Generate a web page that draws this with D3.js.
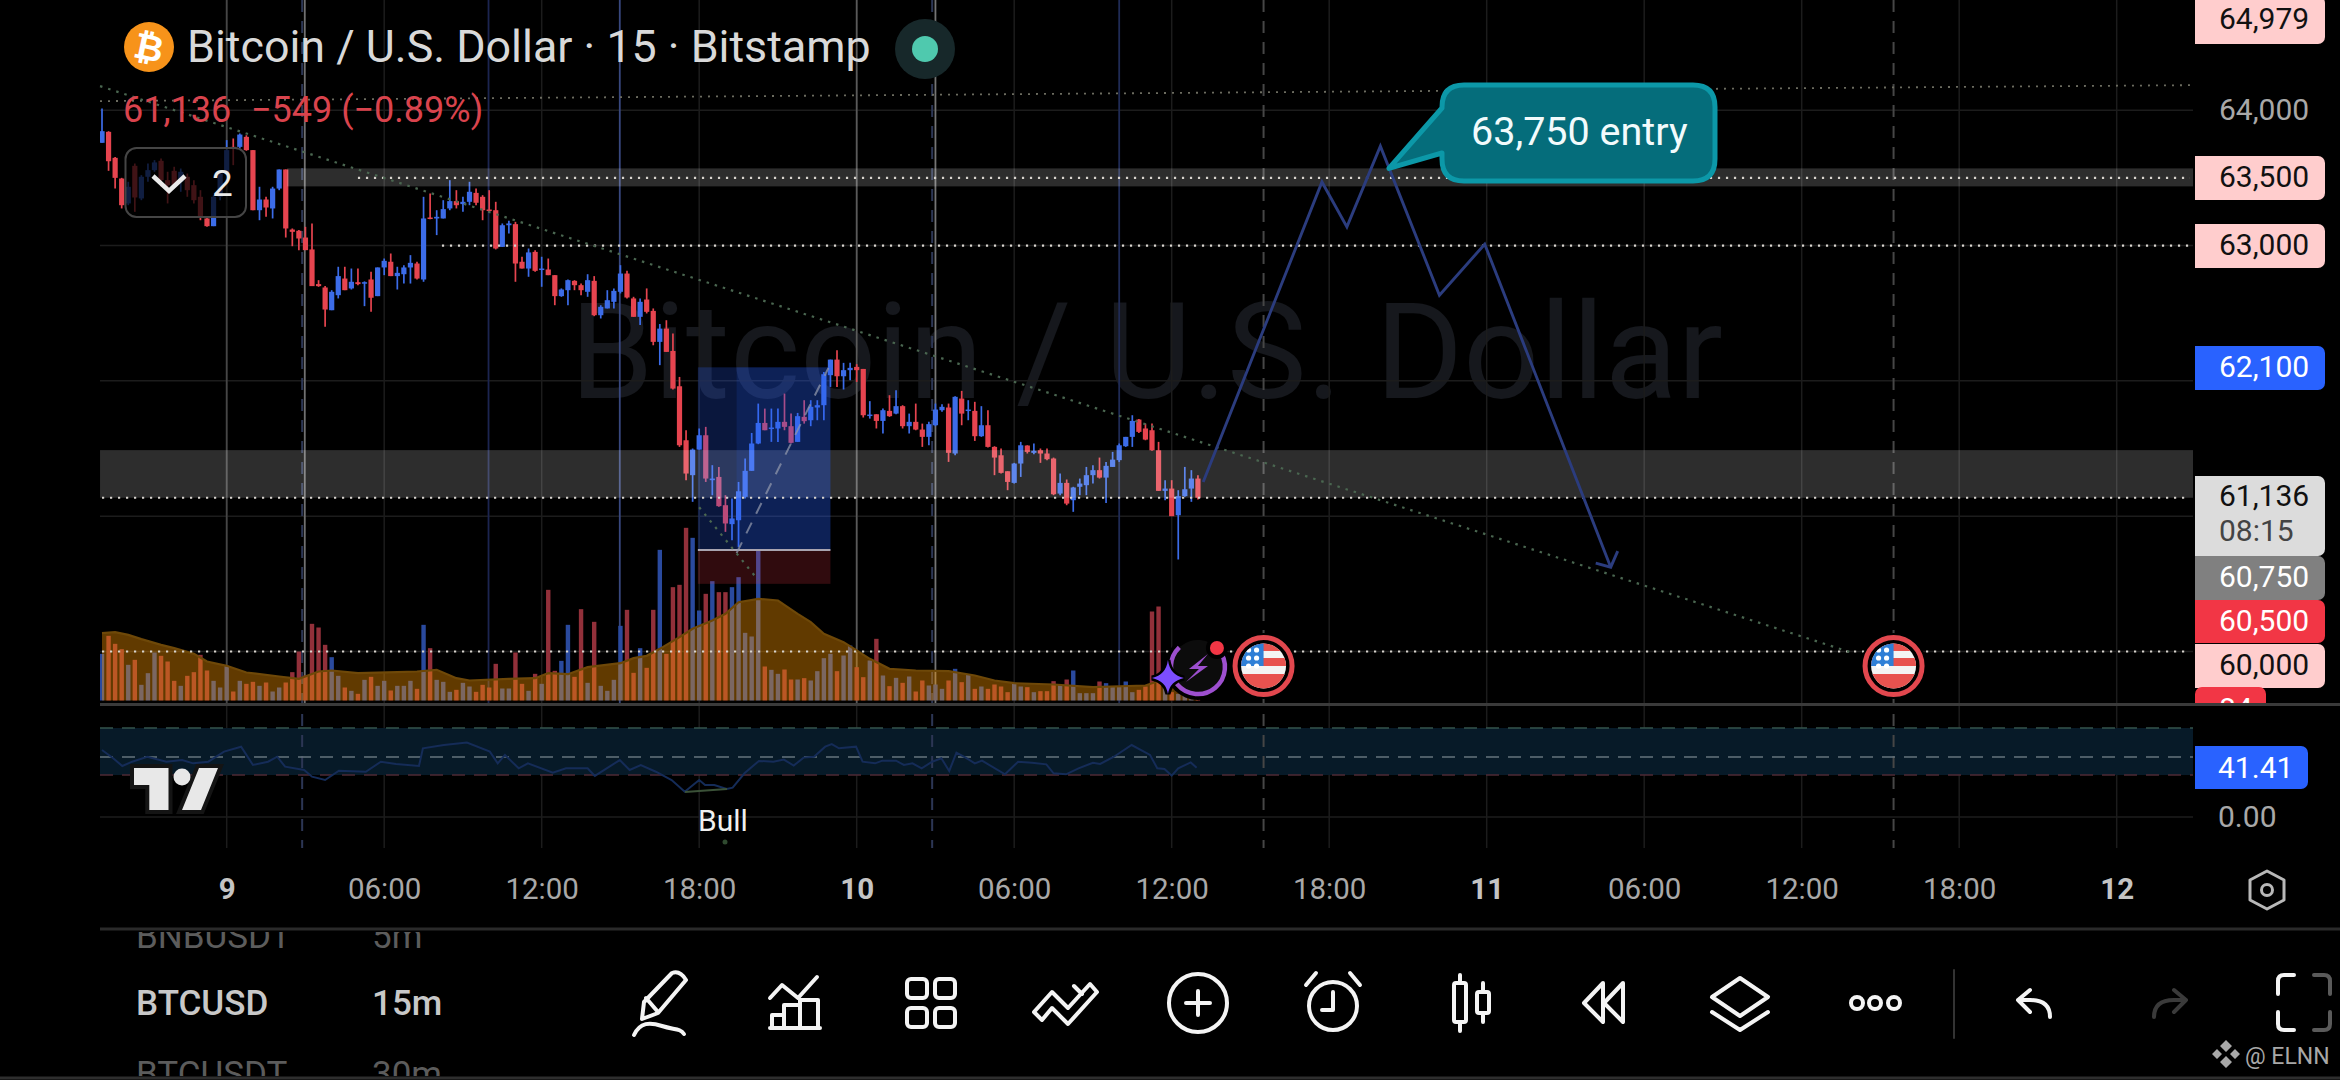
<!DOCTYPE html>
<html><head><meta charset="utf-8">
<script src="https://cdn.jsdelivr.net/npm/d3@7"></script>
<style>html,body{margin:0;padding:0;background:#000}svg{display:block}text{font-family:Roboto,sans-serif}</style>
</head><body><svg id="c" width="2340" height="1080"></svg>
<script>
const opens=[63759,63840,63648,63495,63311,63589,63348,63508,63557,63626,
63483,63552,63471,63508,63446,63360,63200,63143,63360,63532,
63729,63729,63803,63705,63261,63340,63274,63421,63562,63118,
63109,63059,62971,62715,62690,62522,62633,62756,62683,62729,
62719,62749,62626,62838,62880,62774,62788,62838,62867,62749,
63207,63200,63200,63274,63328,63306,63323,63389,63360,63266,
63261,62990,63150,63158,62880,62830,62953,62823,62823,62781,
62626,62670,62739,62707,62658,62739,62485,62535,62584,62658,
62793,62609,62473,62601,62517,62288,62386,62221,61960,61561,
61303,61492,61598,61266,61290,61081,60941,60970,61143,61335,
61537,61689,61645,61648,61697,61665,61549,61734,61709,61803,
61820,62042,62157,62034,62079,62103,62088,61741,61753,61704,
61778,61758,61813,61665,61697,61640,61586,61672,61783,61803,
61463,61869,61778,61778,61591,61672,61512,61450,61332,61246,
61389,61522,61468,61487,61463,61426,61167,61246,61118,61217,
61229,61303,61340,61285,61364,61414,61517,61586,61714,61648,
61635,61487,61187,61204,61007,61148,61204,61278];
const highs=[64013,63845,63655,63500,63471,63606,63520,63606,63631,63643,
63545,63582,63569,63532,63483,63409,63212,63372,63557,63779,
63791,63828,63815,63705,63434,63360,63434,63562,63562,63126,
63114,63138,63163,62744,62700,62670,62843,62843,62830,62830,
62735,62806,62838,62904,62941,62843,62855,62929,62880,63360,
63385,63261,63335,63483,63409,63360,63471,63421,63372,63409,
63323,63163,63183,63175,62917,62978,62966,62917,62904,62781,
62683,62749,62744,62719,62788,62774,62559,62670,62683,62855,
62813,62621,62609,62683,62535,62420,62448,62349,62029,61635,
61500,61648,61660,61377,61364,61155,61130,61253,61426,61615,
61832,61795,61795,61795,61906,61758,61763,61857,61857,61857,
62066,62157,62226,62133,62133,62123,62088,61850,61753,61795,
61894,61931,61820,61758,61832,61684,61697,61832,61827,61832,
61886,61926,61857,61845,61813,61783,61517,61500,61332,61394,
61549,61524,61537,61500,61500,61433,61315,61271,61217,61278,
61364,61377,61433,61401,61475,61537,61586,61746,61719,61684,
61684,61549,61266,61266,61192,61364,61340,61303];
const lows=[63759,63552,63421,63274,63298,63249,63335,63471,63545,63434,
63311,63434,63397,63360,63311,63187,63138,63143,63335,63520,
63594,63717,63700,63261,63187,63212,63200,63409,63059,62995,
62966,62966,62700,62695,62399,62522,62609,62670,62675,62707,
62552,62510,62626,62781,62774,62675,62719,62719,62749,62732,
63195,63077,63200,63261,63274,63249,63298,63298,63187,63249,
62971,62990,63089,62732,62830,62769,62806,62695,62781,62559,
62621,62559,62670,62633,62621,62478,62461,62535,62535,62646,
62609,62473,62412,62498,62263,62116,62214,61936,61512,61266,
61106,61492,61253,61155,61069,60884,60822,60773,61130,61335,
61532,61635,61549,61549,61635,61537,61549,61684,61665,61709,
61709,61955,61955,61936,62005,61992,61729,61721,61648,61611,
61734,61753,61648,61611,61635,61512,61524,61665,61771,61401,
61450,61672,61709,61556,61586,61507,61303,61315,61192,61241,
61290,61463,61458,61394,61414,61155,61155,61081,61032,61155,
61155,61241,61278,61098,61364,61401,61512,61512,61615,61561,
61483,61187,61118,61000,60680,61143,61106,61123];
const closes=[63845,63623,63500,63298,63434,63355,63508,63557,63614,63483,
63446,63446,63545,63409,63335,63212,63143,63360,63532,63705,
63717,63820,63705,63261,63340,63281,63421,63562,63126,63101,
63052,62966,62700,62700,62527,62658,62774,62670,62732,62715,
62729,62614,62838,62887,62774,62798,62838,62872,62756,63200,
63200,63212,63269,63328,63298,63323,63397,63316,63261,63256,
62978,63150,63163,62867,62830,62949,62813,62830,62781,62626,
62675,62744,62707,62670,62744,62485,62547,62596,62665,62793,
62616,62473,62584,62510,62288,62386,62214,61943,61524,61315,
61492,61598,61278,61278,61074,60946,60983,61184,61335,61537,
61689,61635,61655,61697,61660,61542,61739,61702,61808,61820,
62049,62157,62034,62079,62096,62079,61746,61751,61704,61783,
61739,61813,61665,61697,61640,61586,61680,61788,61808,61468,
61882,61758,61788,61591,61672,61512,61433,61320,61253,61389,
61524,61475,61483,61463,61421,61162,61246,61093,61212,61241,
61303,61340,61285,61372,61418,61524,61586,61704,61623,61566,
61487,61187,61204,61000,61148,61199,61278,61136];
const volumes=[140,194,170,154,107,122,47,82,144,134,
117,59,44,74,85,137,90,59,39,104,
27,59,50,56,44,54,27,39,54,85,
147,75,230,219,167,130,74,39,29,20,
62,71,44,59,30,44,44,59,35,227,
157,62,56,26,32,53,42,26,47,39,
110,36,36,144,50,29,80,50,332,89,
119,227,71,274,53,236,44,29,62,224,
272,83,157,98,272,452,140,340,347,518,
488,270,320,358,325,325,340,370,203,192,
453,102,92,80,93,63,63,67,60,88,
127,140,88,135,165,100,70,120,185,75,
43,68,53,72,27,60,45,48,35,60,
95,55,78,35,42,35,48,42,25,53,
42,40,25,28,28,58,48,63,90,22,
22,22,57,52,42,42,57,25,32,42,
267,282,40,25,20,15,8,5];
const volMaBars=[0,2,4,6,9,11,14,16,19,22,27,30,33,35,39,45,48,51,54,56,62,66,68,71,74,79,81,83,85,88,90,93,95,97,100,103,106,108,110,113,115,117,120,124,129,133,136,139,145,151,159,162,167];
const volMaVals=[202,205,197,184,167,157,140,117,104,84,72,65,87,90,82,85,87,92,67,60,65,67,82,79,100,112,127,134,155,190,215,240,260,295,305,300,260,235,200,175,150,125,95,90,88,75,60,52,48,40,45,65,50];
const rsiBars=[0,1.7,3.1,4.6,6.9,9.8,12.2,13.9,16.2,18.6,21.2,23,25.3,26.7,27.9,30.8,32,34,36.1,40.2,42.5,44.8,48.3,48.9,52.1,55.6,59.1,60.3,61.4,63.5,64.9,68.7,70.7,74,75.1,78.9,80.4,82.1,84.4,86.8,88.8,91,91.9,93.3,95.2,96.1,97.9,100.1,102.3,103.9,105.4,106.9,108.5,110.2,111.2,112.3,114.9,115.9,117.8,118.9,121,122.2,123.5,124.9,126.5,127.9,129.1,130.2,131.6,133,134.1,137.6,139.6,141.7,143.9,145,146.9,148.8,151,152.1,154.2,156.9,159.7,160.8,161.9,163,164,165.9,166.8];
const rsiVals=[52.7,46.2,40.1,43.5,47.4,43.5,44.8,42.2,43.5,51.4,55.3,40.9,43.5,47.4,39.6,37,31.7,29.1,36.4,35.6,43.5,41.7,40.1,54,56.6,58.5,51.4,42.2,48.8,38.3,42.2,34.9,38.3,38.3,32.3,44.8,37,40.9,35.6,29.1,19.9,29.1,25.2,25.2,22,23.1,34.4,44.1,43.5,45.2,40.4,46.7,47.4,55.3,57.4,54,55.3,43.5,42.2,44.3,44.3,40.9,42.2,38.3,43.5,46.2,36.2,50.6,46.7,42.2,44.3,33.6,43.5,42.7,41.4,34.4,33.6,38.3,42.7,41.7,47.4,56.6,48.8,38.3,37.8,32.5,38.3,42.9,38.8];
const rsiLevels=[70,47.2,33];
const rsiLevelColors=["#35544c","#66747c","#4e2a35"];
const timeTickBars=[19,43,67,91,115,139,163,187,211,235,259,283,307];
const timeTickLabels=["9","06:00","12:00","18:00","10","06:00","12:00","18:00","11","06:00","12:00","18:00","12"];
const dayTicks=["9","10","11","12"];
const sessionBars=[30.5,126.5,177,273];
const sessionColors=["#2c3654","#2c3654","#464646","#464646"];
const gridPrices=[64000,63000,62000,61000,60000];
const axisPrices=[64000];
const dottedPrices=[63500,63000,61136,60000];
const dottedStartBars=[39,51.8,0,0];
const zonePrices=[[63570,63437],[61488,61136]];
const zoneStartBars=[28.2,-0.3];
const projBars=[167.8,185.9,189.7,194.8,203.8,210.7,229.9];
const projPrices=[61253,63470,63138,63734,62633,63010,60623];
const trendBars=[-0.3,266.4];
const trendPrices=[64178,59995];
const upperBars=[-0.3,318.2];
const upperPrices=[64067,64185];
const shortDotBars=[91,100];
const shortDotPrices=[61066,60527];
const longBars=[90.8,96.7,111];
const longPrices=[62100,60750,60500];
const longDashBars=[96.7,110.7];
const longDashPrices=[60727,62096];
const vLineBars=[19,30.9,58.9,78.9,115,127,155];
const vLineColors=["#464646","#707070","#1c2550","#38487f","#5a5a5a","#747474","#1f2b55"];
const flagBars=[177,273];
const priceBadges=[
 {t:"64,979",top:-4,h:48,fill:"#ffcdcd",c:"#111"},
 {t:"63,500",top:156,h:44,fill:"#ffcdcd",c:"#111"},
 {t:"63,000",top:224,h:44,fill:"#ffcdcd",c:"#111"},
 {t:"62,100",top:346,h:44,fill:"#2962ff",c:"#fff"},
 {t:"60,750",top:556,h:44,fill:"#808080",c:"#fff"},
 {t:"60,500",top:600,h:43,fill:"#f23645",c:"#fff"},
 {t:"60,000",top:644,h:44,fill:"#ffcdcd",c:"#111"}];

const svg=d3.select("#c");
const PL=100,PR=2193;
const x=d3.scaleLinear().domain([0,168]).range([102,102+168*6.5625]);
const y=d3.scaleLinear().domain([60000,64000]).range([651.5,110.2]);
const yV=d3.scaleLinear().domain([0,600]).range([700.5,500.5]);
const yR=d3.scaleLinear().domain([0,70]).range([817,728]);
const RED="#e6444f",BLUE="#3c6ce8";
const idx=d3.range(closes.length);

const defs=svg.append("defs");
defs.append("clipPath").attr("id","plot").append("rect").attr("x",PL).attr("y",0).attr("width",PR-PL).attr("height",704);
defs.append("clipPath").attr("id","flagclip").append("circle").attr("r",22.5);
const clipBadge=defs.append("clipPath").attr("id","bclip");clipBadge.append("rect").attr("x",2190).attr("y",680).attr("width",150).attr("height",23);
const clipRow=defs.append("clipPath").attr("id","rowclip");clipRow.append("rect").attr("x",0).attr("y",932).attr("width",700).attr("height",144);

// watermark
svg.append("text").attr("x",570).attr("y",398).attr("font-size",134).attr("fill","#16181d").text("Bitcoin / U.S. Dollar");

// grid
const gridG=svg.append("g");
gridG.selectAll("line.h").data(gridPrices).join("line").attr("x1",PL).attr("x2",PR).attr("y1",d=>y(d)).attr("y2",d=>y(d)).attr("stroke","#1c1c1c").attr("stroke-width",1.5);
gridG.append("line").attr("x1",PL).attr("x2",PR).attr("y1",yR(0)).attr("y2",yR(0)).attr("stroke","#1c1c1c").attr("stroke-width",1.5);
gridG.selectAll("line.v").data(timeTickBars).join("line").attr("x1",d=>x(d)).attr("x2",d=>x(d)).attr("y1",0).attr("y2",848).attr("stroke","#1c1c1c").attr("stroke-width",1.5);

// RSI band
svg.append("rect").attr("x",PL).attr("width",PR-PL).attr("y",yR(rsiLevels[0])).attr("height",yR(rsiLevels[2])-yR(rsiLevels[0])).attr("fill","#071a28");

// session dashed
svg.selectAll("line.s").data(sessionBars).join("line").attr("x1",d=>x(d)).attr("x2",d=>x(d)).attr("y1",0).attr("y2",848).attr("stroke",(d,i)=>sessionColors[i]).attr("stroke-width",2).attr("stroke-dasharray","12 9");

// coloured verticals
svg.selectAll("line.m").data(vLineBars).join("line").attr("x1",d=>x(d)).attr("x2",d=>x(d)).attr("y1",0).attr("y2",703).attr("stroke",(d,i)=>vLineColors[i]).attr("stroke-width",1.8);

// volume
svg.append("g").attr("clip-path","url(#plot)").selectAll("rect").data(idx).join("rect")
 .attr("x",i=>x(i)-2.2).attr("width",4.4).attr("y",i=>yV(volumes[i])).attr("height",i=>yV(0)-yV(volumes[i]))
 .attr("fill",i=>closes[i]>=opens[i]?"#2a4a9e":"#92303a");
const ma=d3.area().x(d=>x(d)).y0(yV(0)).y1((d,i)=>yV(volMaVals[i]));
svg.append("path").datum(volMaBars).attr("d",ma).attr("fill","#ff9800").attr("fill-opacity",.38).attr("clip-path","url(#plot)");
svg.append("path").datum(volMaBars).attr("d",d3.line().x(d=>x(d)).y((d,i)=>yV(volMaVals[i]))).attr("fill","none").attr("stroke","#6e4808").attr("stroke-width",2.2);
svg.append("line").attr("x1",PL).attr("x2",2340).attr("y1",704.5).attr("y2",704.5).attr("stroke","#3a3a3a").attr("stroke-width",3);

// candles
const cg=svg.append("g").attr("clip-path","url(#plot)");
cg.selectAll("line").data(idx).join("line").attr("x1",i=>x(i)).attr("x2",i=>x(i)).attr("y1",i=>y(highs[i])).attr("y2",i=>y(lows[i]))
 .attr("stroke",i=>closes[i]>=opens[i]?BLUE:RED).attr("stroke-width",1.7);
cg.selectAll("rect").data(idx).join("rect").attr("x",i=>x(i)-2.6).attr("width",5.2)
 .attr("y",i=>y(Math.max(opens[i],closes[i]))).attr("height",i=>Math.max(1.5,Math.abs(y(opens[i])-y(closes[i]))))
 .attr("fill",i=>closes[i]>=opens[i]?BLUE:RED);

// zones
svg.selectAll("rect.z").data(zonePrices).join("rect").attr("x",(d,i)=>x(zoneStartBars[i])).attr("width",(d,i)=>PR-x(zoneStartBars[i]))
 .attr("y",d=>y(d[0])).attr("height",d=>y(d[1])-y(d[0])).attr("fill","#fff").attr("fill-opacity",.175);

// long position
svg.append("rect").attr("x",x(longBars[0])).attr("width",x(longBars[2])-x(longBars[0])).attr("y",y(longPrices[0])).attr("height",y(longPrices[1])-y(longPrices[0])).attr("fill","#2962ff").attr("fill-opacity",.24);
svg.append("rect").attr("x",x(longBars[1])).attr("width",x(longBars[2])-x(longBars[1])).attr("y",y(longPrices[0])).attr("height",y(longPrices[1])-y(longPrices[0])).attr("fill","#2962ff").attr("fill-opacity",.13);
svg.append("rect").attr("x",x(longBars[0])).attr("width",x(longBars[2])-x(longBars[0])).attr("y",y(longPrices[1])).attr("height",y(longPrices[2])-y(longPrices[1])).attr("fill","#f23645").attr("fill-opacity",.2);
svg.append("line").attr("x1",x(longBars[0])).attr("x2",x(longBars[2])).attr("y1",y(longPrices[1])).attr("y2",y(longPrices[1])).attr("stroke","#a8a4b0").attr("stroke-width",2.2);
svg.append("line").attr("x1",x(longDashBars[0])).attr("x2",x(longDashBars[1])).attr("y1",y(longDashPrices[0])).attr("y2",y(longDashPrices[1])).attr("stroke","#8f96aa").attr("stroke-opacity",.75).attr("stroke-width",2).attr("stroke-dasharray","12 10");

// dotted level lines
svg.selectAll("line.d").data(dottedPrices).join("line").attr("x1",(d,i)=>x(dottedStartBars[i])).attr("x2",PR-3).attr("y1",d=>y(d)).attr("y2",d=>y(d))
 .attr("stroke","#d8d4ce").attr("stroke-width",2.2).attr("stroke-dasharray","2.2 5.8");
svg.append("line").attr("x1",x(upperBars[0])).attr("x2",x(upperBars[1])).attr("y1",y(upperPrices[0])).attr("y2",y(upperPrices[1])).attr("stroke","#6c6c60").attr("stroke-width",1.8).attr("stroke-dasharray","2 6");
svg.append("line").attr("x1",x(trendBars[0])).attr("x2",x(trendBars[1])).attr("y1",y(trendPrices[0])).attr("y2",y(trendPrices[1])).attr("stroke","#4a6650").attr("stroke-width",2.2).attr("stroke-dasharray","2.5 6");
svg.append("line").attr("x1",x(shortDotBars[0])).attr("x2",x(shortDotBars[1])).attr("y1",y(shortDotPrices[0])).attr("y2",y(shortDotPrices[1])).attr("stroke","#4a6650").attr("stroke-width",2.2).attr("stroke-dasharray","2.5 6");

// projection
const projLine=d3.line().x(d=>x(d)).y((d,i)=>y(projPrices[i]));
svg.append("path").datum(projBars).attr("d",projLine).attr("fill","none").attr("stroke","#2b3c7e").attr("stroke-width",2.9);
const tx=x(projBars[6]),ty=y(projPrices[6]);
svg.append("path").attr("d",`M${tx-15} ${ty-4}L${tx} ${ty}L${tx+7} ${ty-16}`).attr("fill","none").attr("stroke","#2b3c7e").attr("stroke-width",2.9);

// RSI
rsiLevels.forEach((v,i)=>svg.append("line").attr("x1",PL).attr("x2",PR).attr("y1",yR(v)).attr("y2",yR(v)).attr("stroke",rsiLevelColors[i]).attr("stroke-width",1.6).attr("stroke-dasharray","13 9"));
svg.append("path").datum(rsiBars).attr("d",d3.line().x(d=>x(d)).y((d,i)=>yR(rsiVals[i]))).attr("fill","none").attr("stroke","#152c58").attr("stroke-width",2);
svg.append("line").attr("x1",685).attr("y1",792).attr("x2",727).attr("y2",789).attr("stroke","#3b5238").attr("stroke-width",2);
svg.append("text").attr("x",698).attr("y",831).attr("font-size",30).attr("fill","#f0f0f0").text("Bull");
svg.append("circle").attr("cx",725).attr("cy",842).attr("r",2.5).attr("fill","#2f4a2f");

// TradingView logo
const tv=svg.append("g");
tv.append("path").attr("d","M134 768H168.5V810H149.3V785H134Z M199 768H218L201 810H182Z").attr("fill","#e8e8e8").attr("stroke","#141414").attr("stroke-width",8).attr("paint-order","stroke");
tv.append("circle").attr("cx",182).attr("cy",777).attr("r",8.5).attr("fill","#e8e8e8");

// legend header
svg.append("circle").attr("cx",149).attr("cy",47).attr("r",25).attr("fill","#f7931a");
svg.append("text").attr("x",149).attr("y",60).attr("text-anchor","middle").attr("font-size",36).attr("font-weight",700).attr("fill","#fff").attr("transform","rotate(12 149 47)").style("font-family","'DejaVu Sans',sans-serif").text("₿");
svg.append("text").attr("x",187).attr("y",61.5).attr("font-size",44.8).attr("fill","#d9d9d9").text("Bitcoin / U.S. Dollar · 15 · Bitstamp");
svg.append("circle").attr("cx",925).attr("cy",49).attr("r",30).attr("fill","#17282a");
svg.append("circle").attr("cx",925).attr("cy",49).attr("r",13).attr("fill","#4fc9ae");
svg.append("text").attr("x",123).attr("y",122).attr("font-size",36).attr("fill","#d9434d").text("61,136");
svg.append("text").attr("x",251).attr("y",122).attr("font-size",36).attr("fill","#d9434d").text("−549 (−0.89%)");
svg.append("rect").attr("x",125.5).attr("y",148).attr("width",120.5).attr("height",69).attr("rx",11).attr("fill","#000").attr("fill-opacity",.72).attr("stroke","#454545").attr("stroke-width",2);
svg.append("path").attr("d","M153 176L169 191L185 176").attr("fill","none").attr("stroke","#eaeaea").attr("stroke-width",4.5);
svg.append("text").attr("x",212).attr("y",196).attr("font-size",37).attr("fill","#eaeaea").text("2");

// time axis
const xAxis=d3.axisBottom(x).tickValues(timeTickBars).tickFormat((d,i)=>timeTickLabels[i]).tickSize(0).tickPadding(0);
const xg=svg.append("g").attr("transform","translate(0,878)").call(xAxis);
xg.select(".domain").remove();
xg.selectAll("text").attr("y",0).attr("dy","21").attr("font-size",29.5).style("font-family","Roboto")
 .attr("font-weight",function(){return dayTicks.includes(this.textContent)?700:400})
 .attr("fill",function(){return dayTicks.includes(this.textContent)?"#c4c4c4":"#a8a8a8"});
svg.append("line").attr("x1",PL).attr("x2",2340).attr("y1",929).attr("y2",929).attr("stroke","#2a2a2a").attr("stroke-width",3);

// price axis
const yAxis=d3.axisRight(y).tickValues(axisPrices).tickFormat(d3.format(",")).tickSize(0).tickPadding(0);
const yg=svg.append("g").attr("transform","translate(2219,0)").call(yAxis);
yg.select(".domain").remove();
yg.selectAll("text").attr("font-size",30).style("font-family","Roboto").attr("fill","#a8a8a8").attr("text-anchor","start").attr("dy","9").attr("x",0);

const badge=(d)=>{
 svg.append("rect").attr("x",2195).attr("y",d.top).attr("width",d.w||130).attr("height",d.h).attr("rx",7).attr("fill",d.fill);
 svg.append("rect").attr("x",2195).attr("y",d.top).attr("width",10).attr("height",d.h).attr("fill",d.fill);
 svg.append("text").attr("x",2219).attr("y",d.top+d.h/2+9).attr("font-size",30).attr("fill",d.c).text(d.t);
};
priceBadges.forEach(badge);
svg.append("rect").attr("x",2195).attr("y",476).attr("width",130).attr("height",80).attr("rx",7).attr("fill","#dcdcdc");
svg.append("rect").attr("x",2195).attr("y",476).attr("width",10).attr("height",80).attr("fill","#dcdcdc");
svg.append("text").attr("x",2219).attr("y",506).attr("font-size",30).attr("fill","#111").text("61,136");
svg.append("text").attr("x",2219).attr("y",541).attr("font-size",30).attr("fill","#444").text("08:15");
const cb=svg.append("g").attr("clip-path","url(#bclip)");
cb.append("rect").attr("x",2195).attr("y",687).attr("width",71).attr("height",44).attr("rx",7).attr("fill","#f23645");
cb.append("text").attr("x",2219).attr("y",719).attr("font-size",30).attr("fill","#fff").text("84");
svg.append("rect").attr("x",2195).attr("y",746).attr("width",113).attr("height",43).attr("rx",7).attr("fill","#2962ff");
svg.append("rect").attr("x",2195).attr("y",746).attr("width",10).attr("height",43).attr("fill","#2962ff");
svg.append("text").attr("x",2218).attr("y",778).attr("font-size",30).attr("fill","#fff").text("41.41");
svg.append("text").attr("x",2218).attr("y",827).attr("font-size",30).attr("fill","#a8a8a8").text("0.00");

// callout
const cx0=x(196.1),cy0=y(63570);
const cal=svg.append("g");
const bx0=1442,bx1=1715,by0=85,by1=181,r=22;
cal.append("path").attr("d",`M${bx0+r} ${by0}H${bx1-r}Q${bx1} ${by0} ${bx1} ${by0+r}V${by1-r}Q${bx1} ${by1} ${bx1-r} ${by1}H${bx0+r}Q${bx0} ${by1} ${bx0} ${by1-r}V153L${cx0} ${cy0}L${bx0} 108V${by0+r}Q${bx0} ${by0} ${bx0+r} ${by0}Z`)
 .attr("fill","#056d7b").attr("stroke","#0c98a8").attr("stroke-width",5).attr("stroke-linejoin","round");
cal.append("text").attr("x",1471).attr("y",145).attr("font-size",39.5).attr("fill","#f2fbfc").text("63,750 entry");

// events
const flag=(cx,cy)=>{
 const g=svg.append("g").attr("transform",`translate(${cx},${cy})`);
 g.append("circle").attr("r",33).attr("fill","#000");
 g.append("circle").attr("r",28.5).attr("fill","#000").attr("stroke","#e2474e").attr("stroke-width",5);
 const f=g.append("g").attr("clip-path","url(#flagclip)");
 f.append("rect").attr("x",-23).attr("y",-23).attr("width",46).attr("height",46).attr("fill","#f4f4f4");
 [-23,-8,8,16].forEach(v=>f.append("rect").attr("x",-23).attr("y",v).attr("width",46).attr("height",8).attr("fill","#e8524f"));
 f.append("rect").attr("x",-23).attr("y",-23).attr("width",23).attr("height",23).attr("fill","#2f7fd6");
 [[-15,-15],[-7,-15],[-15,-7],[-7,-7],[-15,1],[-7,1]].forEach(p=>f.append("circle").attr("cx",p[0]).attr("cy",p[1]-1).attr("r",2.6).attr("fill","#fff"));
};
const fy=666;
const ex=x(167);
const ev=svg.append("g").attr("transform",`translate(${ex},667)`);
ev.append("circle").attr("r",33).attr("fill","#000");
ev.append("circle").attr("r",27).attr("fill","#0c0c0c").attr("stroke","#9d4fcf").attr("stroke-width",4.5).attr("stroke-dasharray","125 45").attr("transform","rotate(-40)");
ev.append("path").attr("d","M10 -13L-9 2H1L-12 15L10 -1H0Z").attr("fill","#9d4fcf");
ev.append("circle").attr("cx",19).attr("cy",-19).attr("r",11).attr("fill","#000");
ev.append("circle").attr("cx",19).attr("cy",-19).attr("r",7).attr("fill","#f23645");
ev.append("path").attr("d","M-30 -7Q-28 8 -14 11Q-28 14 -30 27Q-32 14 -46 11Q-32 8 -30 -7Z").attr("fill","#7c4dff").attr("stroke","#000").attr("stroke-width",5).attr("paint-order","stroke");
flagBars.forEach(b=>flag(x(b),fy));

// bottom rows
const rows=svg.append("g").attr("clip-path","url(#rowclip)");
[["BNBUSDT","5m",948,"#5c5c5c",400],["BTCUSD","15m",1015,"#c8c8c8",500],["BTCUSDT","30m",1086,"#5c5c5c",400]].forEach(r=>{
 rows.append("text").attr("x",136).attr("y",r[2]).attr("font-size",35).attr("font-weight",r[4]).attr("fill",r[3]).text(r[0]);
 rows.append("text").attr("x",372).attr("y",r[2]).attr("font-size",35).attr("font-weight",r[4]).attr("fill",r[3]).text(r[1]);
});
svg.append("line").attr("x1",0).attr("x2",2340).attr("y1",1078).attr("y2",1078).attr("stroke","#2e2e2e").attr("stroke-width",3);

// toolbar icons
const ic=svg.append("g").attr("fill","none").attr("stroke","#f4f4f4").attr("stroke-width",4).attr("stroke-linejoin","round").attr("stroke-linecap","round");
const P=(d,s)=>{const e=ic.append("path").attr("d",d);if(s)e.attr("stroke",s);return e};
P("M672 973Q680 970 686 980L658 1013L642 1019L644 1002Z M646 998L658 1012");
P("M634 1035C640 1022 650 1022 662 1026S680 1028 684 1034");
P("M770 998L782 985L798 998L817 977");
P("M772 1028V1015H784V1028M784 1028V1005H800V1028M800 1028V1000H818V1028M770 1028H820");
ic.selectAll("rect.s").data([[907,979],[935,979],[907,1008],[935,1008]]).join("rect").attr("x",d=>d[0]).attr("y",d=>d[1]).attr("width",20).attr("height",19).attr("rx",4);
P("M1034 1012L1052 992L1068 1008L1090 984L1097 992L1068 1024L1052 1008L1042 1020Z M1074 986L1082 994");
ic.append("circle").attr("cx",1198).attr("cy",1003).attr("r",29);
P("M1186 1003H1210M1198 991V1015");
ic.append("circle").attr("cx",1333).attr("cy",1006).attr("r",24);
P("M1333 992V1010H1322M1306 985L1316 973M1360 985L1350 973");
ic.append("rect").attr("x",1454).attr("y",983).attr("width",12).attr("height",39).attr("rx",2);
ic.append("rect").attr("x",1477).attr("y",992).attr("width",12).attr("height",21).attr("rx",2);
P("M1460 975V983M1460 1022V1031M1483 983V992M1483 1013V1022");
P("M1603 983L1584 1003L1603 1022ZM1623 983L1604 1003L1623 1022Z");
P("M1740 978L1768 997L1740 1016L1712 997ZM1712 1012L1740 1030L1768 1012");
[1857,1875,1894].forEach(c=>ic.append("circle").attr("cx",c).attr("cy",1003).attr("r",6));
P("M1954 970V1038","#333").attr("stroke-width",2);
P("M2050 1017C2050 1006 2044 1000 2030 1000H2018M2030 990L2018 1000L2030 1012");
P("M2154 1017C2154 1006 2160 1000 2174 1000H2186M2174 990L2186 1000L2174 1012","#3a3a3a");
P("M2294 975H2284Q2278 975 2278 981V994M2278 1012V1024Q2278 1030 2284 1030H2294");
P("M2314 975H2324Q2330 975 2330 981V994M2330 1012V1024Q2330 1030 2324 1030H2314","#5a5a5a");
P("M2267 871L2284 880V900L2267 909L2250 900V880Z","#b8b8b8").attr("stroke-width",3);
ic.append("circle").attr("cx",2267).attr("cy",890).attr("r",5.5).attr("stroke","#b8b8b8").attr("stroke-width",3);
svg.append("path").attr("d","M2226 1040L2232 1046L2226 1052L2220 1046Z M2217 1049L2222 1054L2217 1059L2212 1054Z M2235 1049L2240 1054L2235 1059L2230 1054Z M2226 1056L2232 1062L2226 1068L2220 1062Z").attr("fill","#a8a8a8");
svg.append("text").attr("x",2245).attr("y",1064).attr("font-size",23).attr("fill","#a8a8a8").text("@ ELNN");
</script></body></html>
